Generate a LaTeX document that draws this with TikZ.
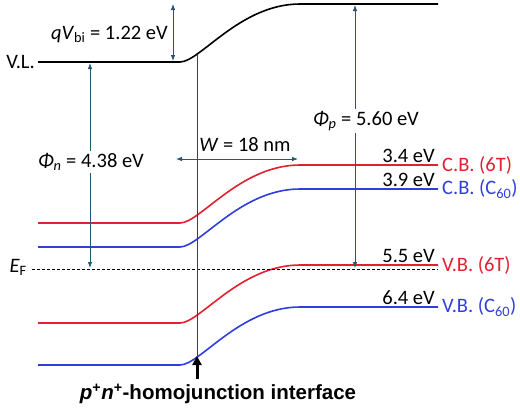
\documentclass[tikz,border=0pt]{standalone}
\usepackage{fontspec}
\setmainfont{Carlito}
\newfontfamily\arialfont{Liberation Sans}
\usetikzlibrary{arrows.meta,positioning}
\definecolor{bandred}{RGB}{226,32,48}
\definecolor{bandblue}{RGB}{48,62,222}
\definecolor{dimteal}{RGB}{32,88,108}

\begin{document}
\begin{tikzpicture}[
    x=1pt, y=-1pt,
    level/.style={line width=1.6pt},
    vaclevel/.style={level, black},
    redlevel/.style={level, bandred},
    bluelevel/.style={level, bandblue},
    fermi/.style={line width=0.9pt, dash pattern=on 3pt off 2pt},
    junction/.style={line width=0.8pt, black!75},
    dim/.style={dimteal, line width=0.8pt, {Latex[length=6pt,width=4.5pt]}-{Latex[length=6pt,width=4.5pt]}},
    lbl/.style={font=\fontsize{20.5}{23}\selectfont, inner sep=1pt},
    redlbl/.style={lbl, text=bandred},
    bluelbl/.style={lbl, text=bandblue},
    boxlbl/.style={lbl, fill=white, inner sep=2pt}
  ]
    \useasboundingbox (0,0) rectangle (520,408);
    % energy levels
    \draw[vaclevel] (38,62) -- (180,62) .. controls (200,62) and (240,4) .. (300,4) -- (438,4);
    \draw[redlevel] (38,223) -- (180,223) .. controls (200,223) and (240,165) .. (300,165) -- (438,165);
    \draw[bluelevel] (38,247) -- (180,247) .. controls (200,247) and (240,189) .. (300,189) -- (438,189);
    \draw[redlevel] (38,323) -- (180,323) .. controls (200,323) and (240,265) .. (300,265) -- (438,265);
    \draw[bluelevel] (38,365) -- (180,365) .. controls (200,365) and (240,307) .. (300,307) -- (438,307);
    \draw[fermi] (32,269) -- (438,269);
    % interface
    \coordinate (jtop) at (197,55);
    \coordinate (jbot) at (197,356);
    \coordinate (jtail) at (197,379);
    \draw[junction] (jtop) -- (jbot);
    \draw[line width=3pt, -{Triangle[length=9pt,width=9pt]}] (jtail) -- (jbot);
    \node[font=\arialfont\bfseries\fontsize{20.5}{23}\selectfont, inner sep=1pt] (junclbl) at (218,394)
      {\textit{p}\textsuperscript{+}\textit{n}\textsuperscript{+}-homojunction interface};
    % dimension arrows
    \coordinate (vbitop) at (173,4);
    \coordinate (vbibot) at (173,61);
    \draw[dim] (vbitop) -- (vbibot);
    \node[lbl, anchor=east] (vbilbl) at (169,34) {\textit{qV}\textsubscript{bi} = 1.22 eV};
    \coordinate (phintop) at (90,63);
    \coordinate (phinbot) at (90,268);
    \draw[dim] (phintop) -- (phinbot);
    \node[boxlbl] (phinlbl) at (91,162) {\textit{Φ}\textsubscript{\textit{n}} = 4.38 eV};
    \coordinate (phiptop) at (355,5);
    \coordinate (phipbot) at (355,268);
    \draw[dim] (phiptop) -- (phipbot);
    \node[boxlbl] (phiplbl) at (366,121) {\textit{Φ}\textsubscript{\textit{p}} = 5.60 eV};
    \coordinate (wleft) at (176,159);
    \coordinate (wright) at (298,159);
    \draw[dim] (wleft) -- (wright);
    \node[lbl] (wlbl) at (245,145) {\textit{W} = 18 nm};
    % level labels
    \node[lbl, anchor=east] (vllbl) at (36,62) {V.L.};
    \node[lbl, anchor=east] (eflbl) at (28,267) {\textit{E}\textsubscript{F}};
    \node[lbl, anchor=south east] (cbsixval) at (436,164) {3.4 eV};
    \node[lbl, anchor=south east] (cbcsixval) at (436,188) {3.9 eV};
    \node[lbl, anchor=south east] (vbsixval) at (436,264) {5.5 eV};
    \node[lbl, anchor=south east] (vbcsixval) at (436,306) {6.4 eV};
    \node[redlbl, anchor=west] (cbsix) at (441,165) {C.B. (6T)};
    \node[bluelbl, anchor=west] (cbcsix) at (441,189) {C.B. (C\textsubscript{60})};
    \node[redlbl, anchor=west] (vbsix) at (441,265) {V.B. (6T)};
    \node[bluelbl, anchor=west] (vbcsix) at (441,307) {V.B. (C\textsubscript{60})};
  \end{tikzpicture}
\end{document}
